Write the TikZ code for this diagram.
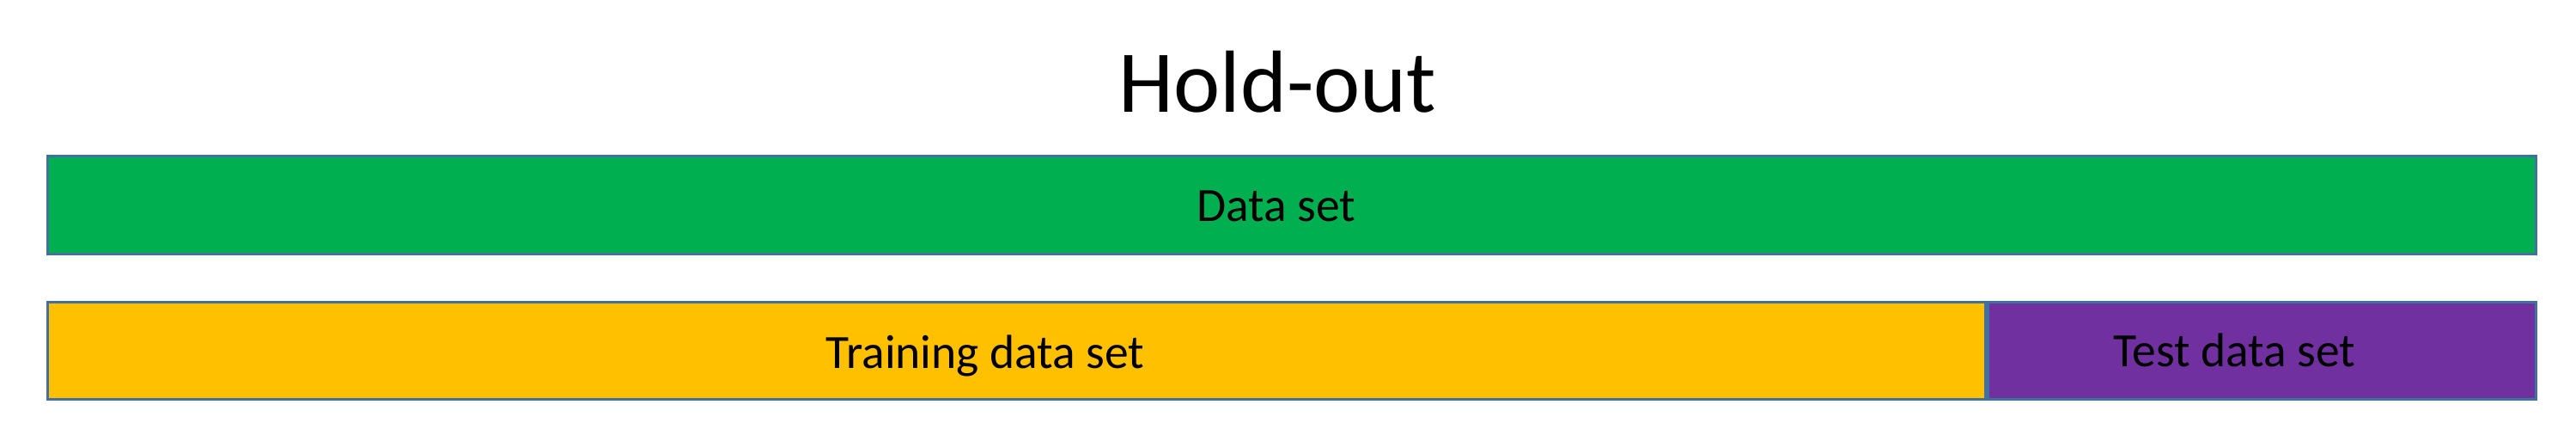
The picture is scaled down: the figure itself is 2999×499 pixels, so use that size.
\documentclass[tikz,border=0pt]{standalone}
\usepackage{fontspec}
\setmainfont{Carlito}
\usepackage{xcolor}

\definecolor{dataGreen}{HTML}{00B050}
\definecolor{trainYellow}{HTML}{FFC000}
\definecolor{testPurple}{HTML}{7030A0}
\definecolor{boxEdge}{HTML}{41719C}

\begin{document}
\begin{tikzpicture}[x=0.1mm, y=-0.1mm]
        \useasboundingbox (0,0) rectangle (2999,499);

        \begin{scope}[every node/.style = {rectangle, draw=boxEdge, line width=0.3mm, inner sep=0pt}]
            \node[fill=dataGreen,   minimum width=289.7mm, minimum height=11.4mm] (D) at (1504,   238.5) {};

            \node[fill=trainYellow, minimum width=225.6mm, minimum height=11.3mm] (T) at (1183.5, 408)   {};
            \node[fill=testPurple,  minimum width=63.8mm,  minimum height=11.3mm] (S) at (2633.5, 408)   {};
        \end{scope}

        \begin{scope}[every node/.style = {inner sep=0pt, anchor=base, text=black}]
            \node[font=\fontsize{29.2}{36}\selectfont] (title) at (1487.5, 130) {Hold-out};

            \node[font=\fontsize{15.8}{19}\selectfont] (Dlabel) at (1486,   257) {Data set};
            \node[font=\fontsize{15.8}{19}\selectfont] (Tlabel) at (1147,   428) {Training data set};
            \node[font=\fontsize{15.8}{19}\selectfont] (Slabel) at (2601.5, 426) {Test data set};
        \end{scope}
    \end{tikzpicture}
\end{document}
